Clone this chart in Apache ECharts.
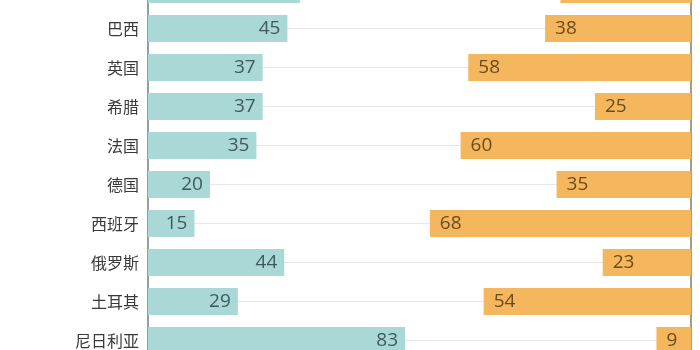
<!DOCTYPE html>
<html><head><meta charset="utf-8">
<script src="https://cdn.jsdelivr.net/npm/echarts@6/dist/echarts.min.js"></script>
<style>html,body{margin:0;padding:0;background:#fff}#c{width:700px;height:350px}</style>
</head><body><div id="c"></div>
<script>
var categories = ['', '巴西', '英国', '希腊', '法国', '德国', '西班牙', '俄罗斯', '土耳其', '尼日利亚'];
var leftValues = [49, 45, 37, 37, 35, 20, 15, 44, 29, 83];
var rightValues = [34, 38, 58, 25, 60, 35, 68, 23, 54, 9];

var chart = echarts.init(document.getElementById('c'));
chart.setOption({
  animation: false,
  grid: { left: 148, right: 9, top: -30, height: 390, outerBoundsMode: 'none', containLabel: false },
  xAxis: [
    { type: 'value', min: 0, max: 175.3, position: 'bottom', show: false },
    { type: 'value', min: 0, max: 141.4, inverse: true, position: 'top', show: false }
  ],
  yAxis: [
    { type: 'category', data: categories, inverse: true, position: 'left',
      axisLine: { show: true, lineStyle: { color: '#6f7f7f', width: 1.5 } },
      axisTick: { show: false },
      axisLabel: { margin: 9, fontSize: 16, color: '#3a3a3a', fontFamily: 'Noto Sans CJK SC' },
      splitLine: { show: false } },
    { type: 'category', data: categories, inverse: true, position: 'right',
      axisLine: { show: true, lineStyle: { color: '#8c7b5e', width: 1.5 } },
      axisTick: { show: false }, axisLabel: { show: false }, splitLine: { show: false } }
  ],
  series: [
    { type: 'bar', name: 'left', xAxisIndex: 0, yAxisIndex: 0, data: leftValues,
      barWidth: 27, barGap: '-100%', z: 3,
      itemStyle: { color: '#a9d8d7' },
      label: { show: true, position: 'insideRight', distance: 7, fontSize: 19,
        color: '#3f5a5c', fontFamily: 'Open Sans' },
      markLine: { silent: true, symbol: 'none', label: { show: false }, z: 1,
        lineStyle: { color: '#e6e6e6', width: 1, type: 'solid' },
        data: categories.map(function (c) { return { yAxis: c }; }) } },
    { type: 'bar', name: 'right', xAxisIndex: 1, yAxisIndex: 0, data: rightValues,
      barWidth: 27, barGap: '-100%', z: 3,
      itemStyle: { color: '#f5b75e' },
      label: { show: true, position: 'insideLeft', distance: 10, fontSize: 19,
        color: '#6b4a1e', fontFamily: 'Open Sans' } }
  ]
});
</script></body></html>
